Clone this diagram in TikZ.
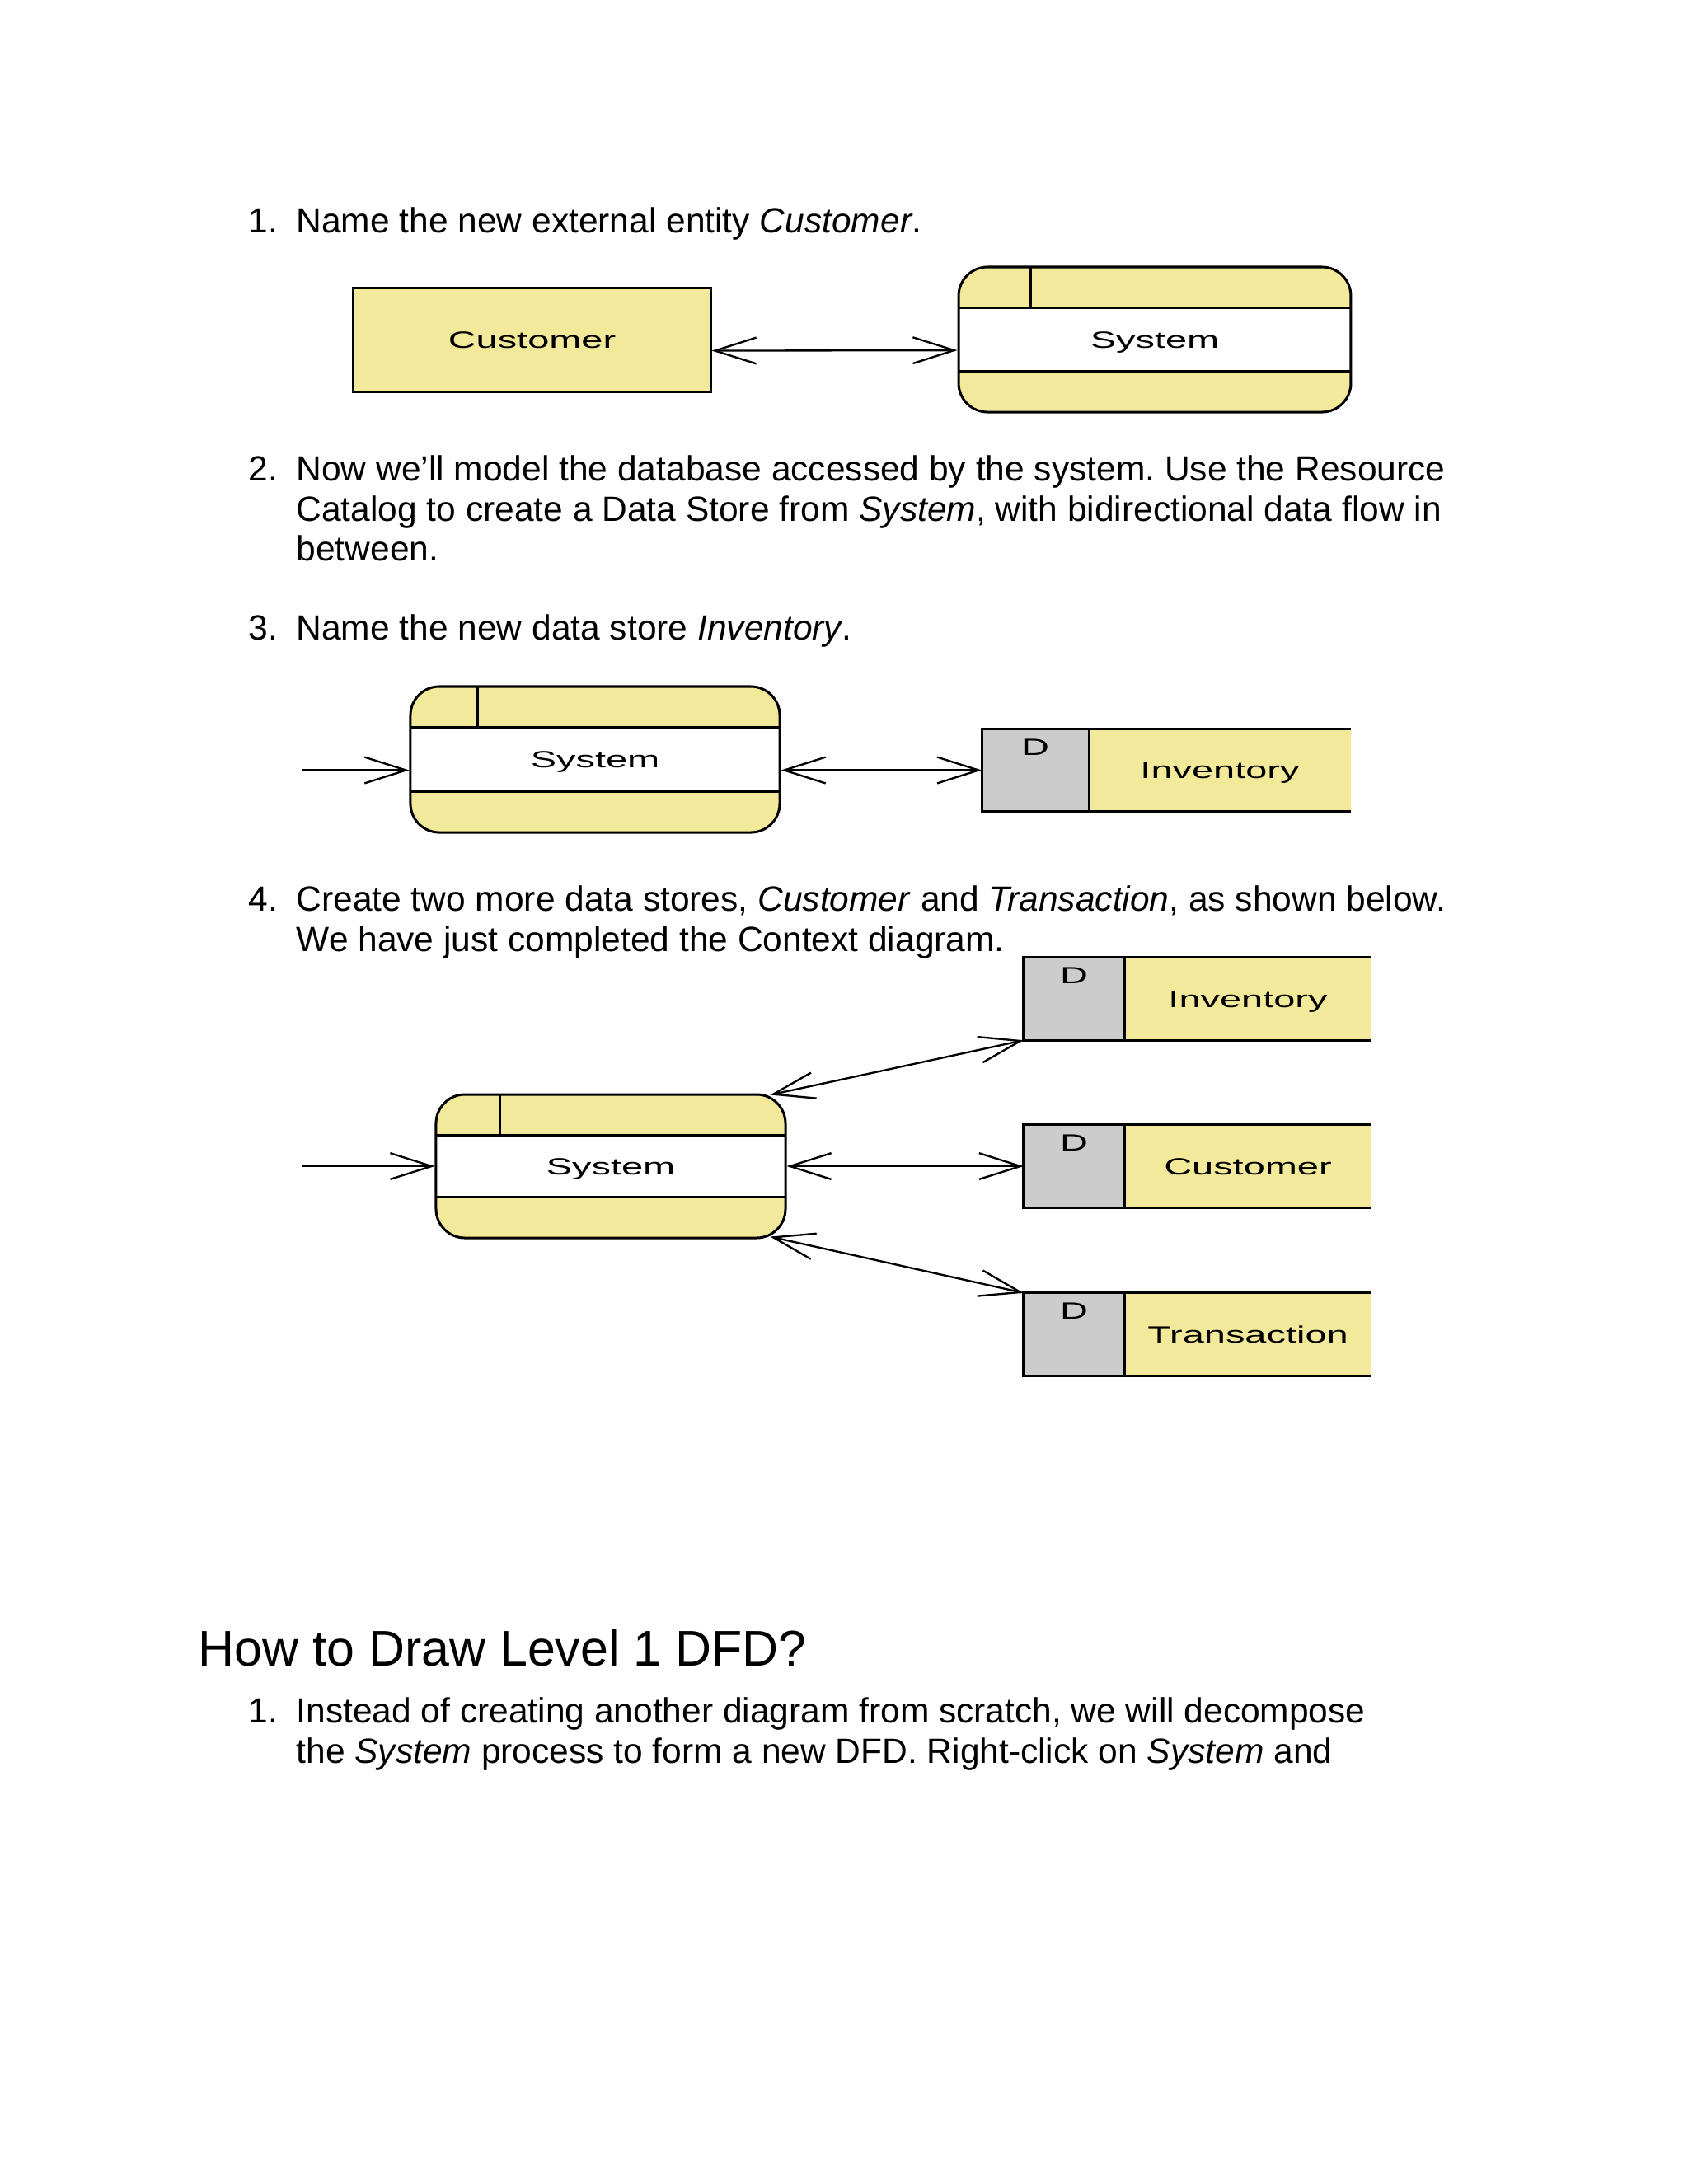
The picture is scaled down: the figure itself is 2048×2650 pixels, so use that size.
\documentclass[tikz,border=0pt]{standalone}
\usepackage{fontspec}
\setmainfont{Liberation Sans}
\newfontfamily\dfdfont[FakeStretch=1.65]{Liberation Sans}
\usetikzlibrary{arrows.meta, positioning, calc}
\definecolor{dfdyellow}{RGB}{243, 233, 155}
\definecolor{dfdgray}{RGB}{204, 204, 204}
\frenchspacing

\begin{document}
\begin{tikzpicture}[
  x=0.2988pt, y=-0.2988pt,
  >={Straight Barb[length=15pt, width=9.5pt]},
  txt/.style={anchor=base west, inner sep=0pt, font=\fontsize{12.7}{14.6}\selectfont},
  head/.style={anchor=base west, inner sep=0pt, font=\fontsize{18.2}{21}\selectfont},
  lbl/.style={font=\dfdfont\fontsize{8.5}{10}\selectfont, text height=6.1pt, text depth=0pt},
  entity/.style={draw, line width=0.9pt, fill=dfdyellow, lbl, minimum width=129.4pt, minimum height=37.4pt},
  process/.style={draw, line width=0.9pt, fill=dfdyellow, lbl, rounded corners=10.5pt,
    path picture={
      \fill[white, sharp corners] ([yshift=-14.9pt]path picture bounding box.north west) rectangle ([yshift=14.9pt]path picture bounding box.south east);
      \draw[line width=0.9pt, sharp corners] ([yshift=-14.9pt]path picture bounding box.north west) -- ([yshift=-14.9pt]path picture bounding box.north east)
        ([yshift=14.9pt]path picture bounding box.south west) -- ([yshift=14.9pt]path picture bounding box.south east)
        ([xshift=#1]path picture bounding box.north west) -- ([xshift=#1, yshift=-14.9pt]path picture bounding box.north west);
    }},
  store/.style={fill=dfdyellow, lbl, outer sep=0pt, minimum height=30pt},
  storeid/.style={fill=dfdgray, outer sep=0pt, minimum height=30pt},
  flow/.style={line width=0.7pt}
]
  \fill[white] (0,0) rectangle (2048,2650);

  % step 1
  \node[txt] (n1) at (301,282) {1.};
  \node[txt] (s1) at (359,282) {Name the new external entity \textit{Customer}.};

  \node[entity] (cust) at (645.5,412.5) {Customer};
  \node[process=26pt, minimum width=142.2pt, minimum height=52.6pt] (sys1) at (1401,412) {System};
  \draw[flow, <->] ([yshift=-3.9pt]cust.east) -- ([yshift=-3.9pt]sys1.west);

  % steps 2 and 3
  \node[txt] (n2) at (301,583) {2.};
  \node[txt] (s2a) at (359,583) {Now we'll model the database accessed by the system. Use the Resource};
  \node[txt] (s2b) at (359,632) {Catalog to create a Data Store from \textit{System}, with bidirectional data flow in};
  \node[txt] (s2c) at (359,680) {between.};
  \node[txt] (n3) at (301,776) {3.};
  \node[txt] (s3) at (359,776) {Name the new data store \textit{Inventory}.};

  \node[process=24.5pt, minimum width=133.9pt, minimum height=52.9pt] (sys2) at (722,921.5) {System};

  % data stores
  \foreach \nm/\txt/\cx/\cy/\w/\wid in {inv2/Inventory/1480/934.5/95pt/38.8pt,
      inv3/Inventory/1514/1212/89.6pt/36.5pt, cst3/Customer/1514/1415/89.6pt/36.5pt,
      trn3/Transaction/1514/1619/89.6pt/36.5pt} {
    \node[store, minimum width=\w] (\nm) at (\cx,\cy) {\txt};
    \node[storeid, minimum width=\wid, left=0pt of \nm] (\nm id) {};
    \node[lbl, inner sep=0pt, below=3.3pt of \nm id.north] (\nm d) {D};
    \draw[line width=0.9pt] (\nm.north east) -- (\nm id.north west) -- (\nm id.south west) -- (\nm.south east)
      (\nm.north west) -- (\nm.south west);
  }

  \coordinate (in2) at (367,934.5);
  \draw[flow, ->] (in2) -- (in2 -| sys2.west);
  \draw[flow, <->] (sys2.east |- inv2id.west) -- (inv2id.west);

  % step 4
  \node[txt] (n4) at (301,1105) {4.};
  \node[txt] (s4a) at (359,1105) {Create two more data stores, \textit{Customer} and \textit{Transaction}, as shown below.};
  \node[txt] (s4b) at (359,1154) {We have just completed the Context diagram.};

  \node[process=23.3pt, minimum width=126.7pt, minimum height=52pt] (sys3) at (741,1415) {System};

  \coordinate (in3) at (367,1415);
  \draw[flow, ->] (in3) -- (in3 -| sys3.west);
  \draw[flow, <->] (sys3.east |- cst3id.west) -- (cst3id.west);
  \draw[flow, <->] ([xshift=-6pt, yshift=-0.6pt]sys3.north east) -- (inv3id.south west);
  \draw[flow, <->] ([xshift=-6pt, yshift=0.9pt]sys3.south east) -- (trn3id.north west);

  % level 1
  \node[head] (h1) at (240,2021) {How to Draw Level 1 DFD?};
  \node[txt] (n5) at (301,2090) {1.};
  \node[txt] (s5a) at (359,2090) {Instead of creating another diagram from scratch, we will decompose};
  \node[txt] (s5b) at (359,2139) {the \textit{System} process to form a new DFD. Right-click on \textit{System} and};
\end{tikzpicture}
\end{document}
